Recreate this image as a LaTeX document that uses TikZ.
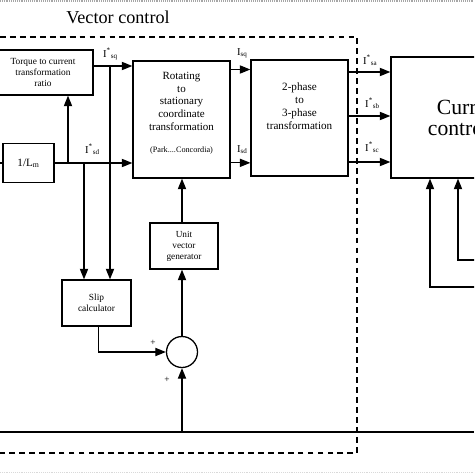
\documentclass[tikz,border=0pt]{standalone}
\usepackage{fontspec}
\setmainfont{Liberation Serif}
\usetikzlibrary{arrows.meta,positioning,calc}

\newcommand{\fs}[2]{\fontsize{#1}{#2}\selectfont}

\begin{document}
\begin{tikzpicture}[x=0.03cm, y=-0.03cm,
  blk/.style={rectangle, draw, line width=1.1pt, align=center, inner sep=0pt},
  txt/.style={align=center, inner sep=0pt, font=#1},
  arr/.style={-{Triangle[length=9pt,width=7pt]}, line width=1pt},
  wire/.style={line width=1pt},
  lbl/.style={font=\fs{9}{10}, inner sep=0pt, anchor=base west},
  vcframe/.style={dash pattern=on 5pt off 3.5pt, line width=1.1pt}
]
  \useasboundingbox (0,0) rectangle (474,474);
  \clip (0,0) rectangle (474,474);

  % scan edges
  \draw[gray!70, line width=1.5pt, dash pattern=on 0.8pt off 0.8pt] (0,1) -- (474,1);
  \draw[gray!30, line width=0.8pt, dash pattern=on 0.8pt off 0.8pt] (0,472) -- (474,472);

  \node[txt=\fs{15.5}{18}] (vctitle) at (118,17) {Vector control};
  \draw[vcframe] (-10,37) -- (357,37) -- (357,453) -- (-10,453);

  % blocks
  \node[blk, minimum width=3cm, minimum height=1.35cm, font=\fs{8}{9}] (torque) at (43,72.5) {Torque to current\\transformation\\ratio};
  \node[blk, minimum width=1.53cm, minimum height=1.17cm, font=\fs{9.5}{11}] (lm) at (28.5,163) {1/L\textsubscript{m}};
  \node[blk, minimum width=2.91cm, minimum height=3.51cm] (rot) at (181.5,119.5) {};
  \node[txt=\fs{9.4}{10.8}] (rottext) at (181.5,113) {Rotating\\to\\stationary\\coordinate\\transformation\\[8pt]{\fs{7}{8}(Park....Concordia)}};
  \node[blk, minimum width=2.91cm, minimum height=3.48cm] (tph) at (299.5,118) {};
  \node[txt=\fs{9.5}{11}] (tphtext) at (299.5,106.5) {2-phase\\to\\3-phase\\transformation};
  \node[blk, minimum width=4.74cm, minimum height=3.63cm, font=\fs{18.5}{18}] (cur) at (470,117.5) {Current\\controller};
  \node[blk, minimum width=2.04cm, minimum height=1.38cm, font=\fs{7.9}{9.4}] (unit) at (184,246) {Unit\\vector\\generator};
  \node[blk, minimum width=2.07cm, minimum height=1.38cm, font=\fs{8}{9.4}] (slip) at (96.5,303) {Slip\\calculator};
  \node[circle, draw, line width=1.1pt, minimum size=0.93cm, inner sep=0pt] (sum) at (182,352) {};
  \node[txt=\fs{8}{8}] (plusa) at (153,343) {+};
  \node[txt=\fs{8}{8}] (plusb) at (167,380) {+};

  % branch points
  \coordinate (lmin) at (0,163);
  \coordinate (br) at (68,163);
  \coordinate (isd) at (84,163);
  \coordinate (isq) at (110,66);
  \coordinate (qa) at ([yshift=1.5cm]rot.east);
  \coordinate (qb) at ([yshift=-1.3cm]rot.east);
  \coordinate (pa) at ([yshift=1.38cm]tph.east);
  \coordinate (pb) at ([yshift=0.06cm]tph.east);
  \coordinate (pc) at ([yshift=-1.32cm]tph.east);
  \coordinate (fba) at (480,287);
  \coordinate (fbb) at (480,260);
  \coordinate (ln0) at (0,432);
  \coordinate (ln1) at (474,432);

  % connectors
  \draw[wire] (lmin) -- (lm.west);
  \draw[arr] (lm.east) -- (lm.east -| rot.west);
  \draw[arr] (br) -- (br |- torque.south);
  \draw[arr] (torque.east |- isq) -- (isq -| rot.west);
  \draw[arr] (isq) -- (isq |- slip.north);
  \draw[arr] (isd) -- (isd |- slip.north);
  \draw[arr] ([xshift=0.07cm]slip.south) |- (sum.west);
  \draw[wire] (ln0) -- (ln1);
  \draw[arr] (sum |- ln0) -- (sum.south);
  \draw[arr] (sum.north) -- (sum.north |- unit.south);
  \draw[arr] (sum.north |- unit.north) -- (sum.north |- rot.south);
  \draw[arr] (qa) -- (qa -| tph.west);
  \draw[arr] (qb) -- (qb -| tph.west);
  \draw[arr] (pa) -- (pa -| cur.west);
  \draw[arr] (pb) -- (pb -| cur.west);
  \draw[arr] (pc) -- (pc -| cur.west);
  \draw[arr] (fba) -| ([xshift=-1.2cm]cur.south);
  \draw[arr] (fbb) -| ([xshift=-0.36cm]cur.south);

  % signal labels
  \node[lbl] (lisq) at (103,57) {I\textsuperscript{*}\textsubscript{sq}};
  \node[lbl] (lisd) at (85,153) {I\textsuperscript{*}\textsubscript{sd}};
  \node[lbl] (lsq) at (237,55) {I\textsubscript{sq}};
  \node[lbl] (lsd) at (237,152) {I\textsubscript{sd}};
  \node[lbl] (lsa) at (363,64) {I\textsuperscript{*}\textsubscript{sa}};
  \node[lbl] (lsb) at (365,107) {I\textsuperscript{*}\textsubscript{sb}};
  \node[lbl] (lsc) at (365,151) {I\textsuperscript{*}\textsubscript{sc}};
\end{tikzpicture}
\end{document}
